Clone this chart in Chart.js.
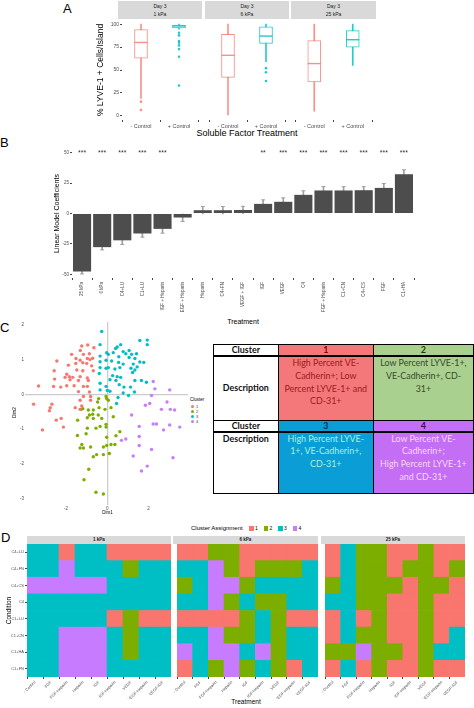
<!DOCTYPE html>
<html>
<head>
<meta charset="utf-8">
<script src="https://cdn.jsdelivr.net/npm/chart.js@4.4.0/dist/chart.umd.min.js"></script>
<style>
body{margin:0;width:474px;height:708px;overflow:hidden;background:#fff;position:relative;font-family:'Liberation Sans',Arial,sans-serif}
.txt{position:absolute;white-space:nowrap;line-height:1}
.letter{position:absolute;font-size:13px;line-height:13px;color:#000}
.strip{position:absolute;background:#D9D9D9;color:#1a1a1a;text-align:center}
#clusterTable{position:absolute;left:213px;top:344px;border-collapse:collapse;font-family:Lato,'Open Sans',sans-serif;font-size:8.9px;table-layout:fixed}
#clusterTable td{border:1px solid #000;text-align:center;padding:0;line-height:12.8px;vertical-align:top;overflow:hidden;box-sizing:border-box}
#clusterTable td.lab{background:#fff;color:#111;font-weight:bold}
#clusterTable tr.hd td{font-weight:bold;height:11px;line-height:10px}
#clusterTable tr.ds td{border-top:2px solid #000}
#clusterTable tr.ds0 td{height:64px}
#clusterTable tr.ds1 td{height:62px}
</style>
</head>
<body>
<div class="letter" style="left:63px;top:2px">A</div>
<div class="letter" style="left:0px;top:136px">B</div>
<div class="letter" style="left:0px;top:321px">C</div>
<div class="letter" style="left:1px;top:531px">D</div>

<div class="txt" style="left:247px;top:129px;transform:translateX(-50%);font-size:9px;color:#000">Soluble Factor Treatment</div>
<div class="txt" style="left:243px;top:318px;transform:translateX(-50%);font-size:7px;color:#000">Treatment</div>
<div class="txt" style="left:246px;top:699px;transform:translateX(-50%);font-size:6.5px;color:#000">Treatment</div>

<script>
// ---- panel A: box plots ----
const boxGroups = ['- Control', '+ Control'];
const boxFacets = ['1 kPa', '6 kPa', '25 kPa'];
const boxMin = [[19, 94.5], [1, 59], [5, 55]];
const boxQ1 = [[63, 96], [42, 79], [37, 75]];
const boxMed = [[80, 98], [66, 87], [57, 83]];
const boxQ3 = [[94, 99], [89, 97], [82, 93]];
const boxMax = [[100, 100], [100, 100], [100, 100]];
const outMinus = [[15.5, 6.5], [], []];
const outPlus = [[90.5, 87.7, 81.5, 79.7, 76.8, 72.8, 64.5, 33], [52, 47.5, 38], []];
const yTicksA = [0, 25, 50, 75, 100];

// ---- panel B: linear model coefficients ----
const treatments = ['25 kPa', '6 kPa', 'C4+LU', 'C1+LU', 'IGF + Heparin', 'VEGF + Heparin', 'Heparin', 'C4+FN',
  'VEGF + IGF', 'IGF', 'VEGF', 'C4', 'FGF + Heparin', 'C1+CN', 'C4+CS', 'FGF', 'C1+HA'];
const coefs = [-47.5, -27.6, -22, -16.4, -12.6, -3.3, 2.7, 2.7, 2.9, 7.9, 9.6, 15.3, 18.9, 18.9, 19.1, 21, 32.2];
const coefErr = [2, 2.2, 3.4, 3, 3.5, 3.3, 3, 3, 3, 3.3, 3.2, 3.3, 3.2, 3.1, 2.9, 3.6, 3.6];
const signif = ['***', '***', '***', '***', '***', '', '', '', '', '**', '***', '***', '***', '***', '***', '***', '***'];
const starLevel = 50;
const yTicksB = [-50, -25, 0, 25, 50];

// ---- panel C: cluster scatter (Dim1, Dim2) ----
const cluster1 = [[-1.24,1.39],[-0.95,1.42],[-0.65,1.34],[-1.31,1.26],[-1.73,1.15],[-1.16,1.15],[-0.87,1.17],[-1.52,1.03],
  [-1.32,0.98],[-0.97,1.03],[-0.84,1.00],[-0.71,1.04],[-2.45,0.96],[-1.53,0.89],[-1.19,0.91],[-1.00,0.89],[-1.89,0.84],
  [-0.76,0.82],[-2.58,0.68],[-1.48,0.70],[-1.19,0.68],[-0.68,0.68],[-1.97,0.58],[-2.05,0.49],[-1.84,0.51],[-1.68,0.49],
  [-1.32,0.51],[-0.97,0.47],[-2.56,0.44],[-1.81,0.42],[-1.40,0.40],[-0.92,0.40],[-1.97,0.25],[-1.61,0.25],[-1.16,0.23],
  [-0.97,0.23],[-3.34,0.24],[-2.61,0.23],[-2.26,0.21],[-1.40,0.08],[-0.87,0.07],[-1.16,-0.06],[-0.81,-0.17],[-1.32,-0.17],
  [-3.58,-0.28],[-2.69,-0.28],[-2.77,-0.38],[-1.56,-0.38],[-2.81,-0.47],[-1.32,-0.43],[-2.24,-0.69],[-2.48,-0.74],
  [-2.13,-0.94],[-3.15,-1.02],[-1.24,-0.33],[-0.81,-0.06]];
const cluster2 = [[-0.06,-0.06],[-0.03,-0.12],[-0.42,-0.12],[-1.27,-0.43],[-0.92,-0.45],[-0.68,-0.45],[-0.40,-0.38],
  [-0.11,-0.43],[0.18,-0.38],[-0.87,-0.59],[-0.71,-0.57],[-0.44,-0.59],[-0.97,-0.67],[-0.68,-0.69],[-1.44,-0.74],
  [-0.27,-0.69],[0.29,-0.64],[-0.06,-0.86],[-0.35,-0.92],[-0.55,-0.97],[-0.97,-0.97],[-0.06,-0.94],[0.61,-1.07],
  [-1.45,-1.18],[-1.03,-1.13],[0.42,-1.19],[-0.03,-1.23],[-1.24,-1.44],[-1.16,-1.54],[-1.32,-1.54],[-0.81,-1.51],
  [-0.19,-1.51],[-0.03,-1.47],[0.18,-1.44],[0.37,-1.44],[-0.52,-1.73],[-0.19,-1.73],[0.10,-1.70],[-0.68,-1.79],
  [-0.90,-2.15],[-1.13,-2.45],[-0.55,-2.81],[-0.19,-2.86],[-1.19,-0.41],[-0.47,-0.22],[0.05,-0.17]];
const cluster3 = [[-0.27,1.81],[1.58,1.55],[1.94,1.56],[1.94,1.43],[-0.35,1.43],[0.40,1.32],[0.48,1.36],[0.65,1.43],
  [1.06,1.26],[-0.03,1.20],[0.05,1.15],[0.29,1.20],[0.77,1.23],[0.90,1.17],[1.18,1.15],[1.42,1.17],[-0.35,1.10],
  [0.56,1.08],[1.06,1.06],[1.34,1.03],[1.58,0.93],[1.77,0.92],[-0.35,0.94],[-0.06,0.98],[0.21,0.96],[0.55,0.92],
  [0.77,0.87],[1.26,0.87],[1.45,0.79],[-0.35,0.77],[-0.06,0.75],[0.05,0.77],[0.37,0.73],[0.61,0.77],[1.15,0.75],
  [1.34,0.70],[1.23,0.63],[0.26,0.54],[0.48,0.51],[0.65,0.49],[0.13,0.42],[0.42,0.40],[1.34,0.40],[1.66,0.40],
  [1.90,0.35],[-0.35,0.32],[0.58,0.28],[-0.06,0.23],[0.81,0.21],[1.13,0.21],[1.32,0.07],[-0.35,0.13],[0.0,0.11],
  [0.13,0.09],[0.77,0.04],[1.03,-0.03],[0.52,-0.09],[0.45,-0.26],[-0.39,0.60]];
const cluster4 = [[2.23,0.37],[2.31,0.16],[3.03,0.13],[2.15,-0.03],[2.90,-0.22],[1.85,-0.31],[2.06,-0.26],[2.63,-0.43],
  [3.06,-0.43],[3.27,-0.45],[1.18,-0.59],[2.23,-0.85],[2.39,-0.85],[3.03,-0.88],[3.52,-0.94],[2.73,-1.02],[1.55,-0.92],
  [1.55,-1.21],[0.90,-1.28],[0.69,-1.32],[1.55,-1.47],[2.15,-1.58],[1.26,-1.77],[3.19,-1.82],[1.94,-2.06],[1.66,-2.20]];
const clusterNames = ['1', '2', '3', '4'];
const clusterColors = ['#F8766D', '#7CAE00', '#00BFC4', '#C77CFF'];

// ---- table next to panel C ----
const tableFill = ['#F4787A', '#A9D08E', '#0B9ED6', '#C36EF5'];
const tableHeadInk = ['#8B0000', '#1E3A10', '#0A2A45', '#3A0A55'];
const tableInk = ['#9B1B1B', '#3A4A30', '#A8F0DA', '#F6D8F8'];
const tableDesc = [
  'High Percent VE-<br>Cadherin+; Low<br>Percent LYVE-1+ and<br>CD-31+',
  'Low Percent LYVE-1+,<br>VE-Cadherin+, CD-<br>31+',
  'High Percent LYVE-<br>1+, VE-Cadherin+,<br>CD-31+',
  'Low Percent VE-<br>Cadherin+;<br>High Percent LYVE-1+<br>and CD-31+'];

// ---- panel D: cluster assignment heat map ----
const conditions = ['C4+LU', 'C4+FN', 'C4+CS', 'C4', 'C1+LU', 'C1+CN', 'C1+HA', 'C1+FN'];
const heatTreatments = ['- Control', 'FGF', 'FGF-Heparin', 'Heparin', 'IGF', 'IGF-Heparin', 'VEGF', 'VEGF-Heparin', 'VEGF-IGF'];
const stiffness = ['1 kPa', '6 kPa', '25 kPa'];
const assign1kPa = [
  [3,3,1,3,3,1,1,1,1],
  [3,3,4,3,3,3,2,3,3],
  [4,4,4,4,4,3,3,3,3],
  [3,3,3,3,3,3,3,3,3],
  [3,3,3,3,3,1,2,1,1],
  [3,3,4,4,4,3,2,3,3],
  [3,3,4,4,4,3,2,3,3],
  [3,3,4,4,4,3,3,3,3]];
const assign6kPa = [
  [1,1,2,2,1,1,1,1,1],
  [3,3,4,2,1,2,2,2,3],
  [2,3,4,4,2,3,3,3,3],
  [3,3,4,2,3,2,2,3,3],
  [1,1,1,1,2,3,2,1,1],
  [3,3,4,2,2,3,2,3,3],
  [4,3,4,4,3,4,2,3,3],
  [1,3,2,4,2,3,2,1,3]];
const assign25kPa = [
  [1,3,2,2,1,1,2,1,1],
  [1,3,2,2,1,2,2,1,2],
  [2,3,2,2,2,1,2,2,1],
  [3,3,2,2,1,1,2,1,1],
  [1,3,1,2,1,1,2,1,1],
  [1,3,2,2,1,1,2,1,3],
  [2,2,4,2,2,1,2,3,3],
  [1,3,1,2,1,1,2,1,1]];
const heatData = [assign1kPa, assign6kPa, assign25kPa];

Chart.defaults.font.family = "'Liberation Sans', Arial, sans-serif";
Chart.defaults.color = '#4D4D4D';
Chart.defaults.animation = false;
Chart.defaults.responsive = false;
Chart.defaults.devicePixelRatio = 1;
Chart.defaults.layout.autoPadding = false;
Chart.defaults.plugins.legend.display = false;
Chart.defaults.plugins.tooltip.enabled = false;

function makeCanvas(left, top, w, h) {
  const c = document.createElement('canvas');
  c.width = w; c.height = h;
  c.style.cssText = 'position:absolute;left:' + left + 'px;top:' + top + 'px;width:' + w + 'px;height:' + h + 'px';
  document.body.appendChild(c);
  return c.getContext('2d');
}
function addDiv(cls, css, html) {
  const d = document.createElement('div');
  d.className = cls;
  d.style.cssText = css;
  d.innerHTML = html;
  document.body.appendChild(d);
  return d;
}
// fixed axis size, only for shown axes
const fixWidth = (show, w) => s => { if (show) s.width = w; };
const tickGrid = {drawOnChartArea: false, tickLength: 2, color: '#444'};

// panel A
const boxColors = ['rgba(248,118,109,0.8)', 'rgba(0,191,196,0.85)'];
const facetA = [[118, 84], [205, 84], [291, 85]];
function boxChart(f) {
  const [left, width] = facetA[f];
  const showY = f === 0;
  addDiv('strip', 'left:' + left + 'px;top:1px;width:' + width + 'px;height:18px;font-size:5px;line-height:8px;padding-top:1px;box-sizing:border-box',
    'Day 3<br>' + boxFacets[f]);
  const axisW = showY ? 36 : 0;
  const ctx = makeCanvas(left - axisW, 16, width + axisW, 116);
  new Chart(ctx, {
    type: 'bar',
    data: {
      labels: boxGroups,
      datasets: [
        {type: 'line', data: outMinus[f].map(v => ({x: boxGroups[0], y: v})), showLine: false,
          pointRadius: 1.3, pointBorderWidth: 0, pointBackgroundColor: boxColors[0], order: 1},
        {type: 'line', data: outPlus[f].map(v => ({x: boxGroups[1], y: v})), showLine: false,
          pointRadius: 1.3, pointBorderWidth: 0, pointBackgroundColor: boxColors[1], order: 1},
        {type: 'line', data: boxMed[f], showLine: false, pointStyle: 'line', pointRadius: 6.5,
          pointBorderColor: boxColors, pointBorderWidth: 1.4, order: 2},
        {data: boxQ1[f].map((q, i) => [q, boxQ3[f][i]]), backgroundColor: '#fff', borderColor: boxColors,
          borderWidth: 1, borderSkipped: false, barThickness: 13, grouped: false, order: 3},
        {data: boxMin[f].map((m, i) => [m, boxMax[f][i]]), backgroundColor: boxColors,
          barThickness: 1, grouped: false, order: 4}
      ]
    },
    options: {
      layout: {padding: {top: 4, left: showY ? 0 : 4, right: 4, bottom: 0}},
      scales: {
        x: {grid: tickGrid, border: {display: false},
          ticks: {minRotation: 0, maxRotation: 0, autoSkip: false, font: {size: 5.5}, color: '#4D4D4D', padding: 1},
          afterFit: s => { s.height = 12; }},
        y: {display: showY, min: -4.5, max: 104.5,
          afterBuildTicks: s => { s.ticks = yTicksA.map(v => ({value: v})); },
          grid: tickGrid, border: {display: false},
          ticks: {font: {size: 5}, color: '#4D4D4D', padding: 1},
          title: {display: true, text: '% LYVE-1 + Cells/Island', font: {size: 8.5}, color: '#000', padding: {top: 14, bottom: 0}},
          afterFit: fixWidth(showY, 40)}
      }
    }
  });
}
[0, 1, 2].forEach(boxChart);

// panel B
const starPlugin = {
  id: 'stars',
  afterDatasetsDraw(chart) {
    const {ctx, scales: {x, y}} = chart;
    ctx.save();
    ctx.font = "7px 'Liberation Sans'";
    ctx.fillStyle = '#333';
    ctx.textAlign = 'center';
    ctx.textBaseline = 'middle';
    signif.forEach((s, i) => ctx.fillText(s, x.getPixelForValue(i), y.getPixelForValue(starLevel) + 1));
    ctx.restore();
  }
};
new Chart(makeCanvas(40, 145, 380, 167), {
  type: 'bar',
  data: {
    labels: treatments,
    datasets: [
      {data: coefs, backgroundColor: '#4D4D4D', barPercentage: 0.9, categoryPercentage: 1, grouped: false, order: 1},
      {data: coefs.map((v, i) => [v - coefErr[i], v + coefErr[i]]), backgroundColor: '#A0A0A0',
        barThickness: 1, grouped: false, order: 3},
      {type: 'line', data: coefs.map((v, i) => v + Math.sign(v) * coefErr[i]), showLine: false,
        pointStyle: 'line', pointRadius: 2, pointBorderColor: '#A0A0A0', pointBorderWidth: 1, order: 2}
    ]
  },
  options: {
    layout: {padding: {top: 4, left: 0, right: 6, bottom: 0}},
    scales: {
      x: {grid: tickGrid, border: {display: false},
        ticks: {minRotation: 90, maxRotation: 90, autoSkip: false, font: {size: 4.5}, color: '#4D4D4D', padding: 2},
        afterFit: s => { s.height = 34; }},
      y: {min: -52.9, max: 52.9,
        afterBuildTicks: s => { s.ticks = yTicksB.map(v => ({value: v})); },
        grid: tickGrid, border: {display: false},
        ticks: {font: {size: 4.5}, color: '#4D4D4D', padding: 1},
        title: {display: true, text: 'Linear Model Coefficients', font: {size: 7}, color: '#000', padding: {top: 13, bottom: 0}},
        afterFit: s => { s.width = 32; }}
    }
  },
  plugins: [starPlugin]
});

// panel C
const zeroLine = c => (c.tick && c.tick.value === 0) ? '#CCCCCC' : 'rgba(0,0,0,0)';
new Chart(makeCanvas(0, 317, 188, 200), {
  type: 'scatter',
  data: {
    datasets: [cluster1, cluster2, cluster3, cluster4].map((pts, k) => ({
      label: clusterNames[k],
      data: pts.map(p => ({x: p[0], y: p[1]})),
      pointRadius: 1.7, pointBorderWidth: 0, pointBackgroundColor: clusterColors[k]
    }))
  },
  options: {
    layout: {padding: {top: 5, left: 0, right: 0, bottom: 0}},
    scales: {
      x: {type: 'linear', min: -3.9, max: 3.92,
        afterBuildTicks: s => { s.ticks = [-2, 0, 2].map(v => ({value: v})); },
        grid: {color: zeroLine, lineWidth: 1.3, tickLength: 2}, border: {display: false},
        ticks: {font: {size: 4.5}, color: '#4D4D4D', padding: 1},
        title: {display: true, text: 'Dim1', font: {size: 4.5}, color: '#000', padding: {top: 0, bottom: 1.5}},
        afterFit: s => { s.height = 14; }},
      y: {min: -3.12, max: 2.08,
        afterBuildTicks: s => { s.ticks = [-3, -2, -1, 0, 1, 2].map(v => ({value: v})); },
        grid: {color: zeroLine, lineWidth: 1.3, tickLength: 2}, border: {display: false},
        ticks: {font: {size: 4.5}, color: '#4D4D4D', padding: 1},
        title: {display: true, text: 'Dim2', font: {size: 4.5}, color: '#000', padding: {top: 12, bottom: 0}},
        afterFit: s => { s.width = 27; }}
    }
  }
});
// legend of panel C
addDiv('txt', 'left:190px;top:398px;font-size:4.5px;color:#000', 'Cluster');
clusterNames.forEach((n, k) => {
  addDiv('txt', 'left:191px;top:' + (405 + k * 5) + 'px;width:3px;height:3px;border-radius:50%;background:' + clusterColors[k], '');
  addDiv('txt', 'left:196px;top:' + (404.5 + k * 5) + 'px;font-size:4px;color:#333', n);
});

// table
(function () {
  const t = document.createElement('table');
  t.id = 'clusterTable';
  let html = '<colgroup><col style="width:65px"><col style="width:96px"><col style="width:101px"></colgroup>';
  [[0, 1], [2, 3]].forEach((pair, r) => {
    html += '<tr class="hd"><td class="lab">Cluster</td>' +
      pair.map(k => '<td style="background:' + tableFill[k] + ';color:' + tableHeadInk[k] + '">' + clusterNames[k] + '</td>').join('') + '</tr>';
    html += '<tr class="ds ds' + r + '"><td class="lab" style="vertical-align:' + (r === 0 ? 'middle' : 'top') + '">Description</td>' +
      pair.map(k => '<td style="background:' + tableFill[k] + ';color:' + tableInk[k] + '">' + tableDesc[k] + '</td>').join('') + '</tr>';
  });
  t.innerHTML = html;
  document.body.appendChild(t);
})();

// panel D
addDiv('txt', 'left:191px;top:525px;font-size:6px;color:#000', 'Cluster Assignment');
clusterNames.forEach((n, k) => {
  addDiv('txt', 'left:' + (249 + k * 14.5) + 'px;top:526px;width:4.5px;height:4.5px;background:' + clusterColors[k], '');
  addDiv('txt', 'left:' + (255 + k * 14.5) + 'px;top:526px;font-size:5px;color:#000', n);
});
const facetD = [[27, 144], [173, 145], [321, 144]];
function heatChart(f) {
  const [left, width] = facetD[f];
  const showY = f === 0;
  addDiv('strip', 'left:' + left + 'px;top:536px;width:' + width + 'px;height:7.5px;font-size:4.5px;line-height:7.5px;font-weight:bold', stiffness[f]);
  const rows = heatData[f];
  const axisW = showY ? 27 : 0;
  const datasets = conditions.map((c, r) => r).reverse().map(r => ({
    label: conditions[r],
    data: heatTreatments.map(() => 1),
    backgroundColor: rows[r].map(k => clusterColors[k - 1]),
    barPercentage: 1, categoryPercentage: 1, borderWidth: 0
  }));
  new Chart(makeCanvas(left - axisW, 540, width + axisW, 159), {
    type: 'bar',
    data: {labels: heatTreatments, datasets},
    options: {
      layout: {padding: {top: 4, left: 0, right: 0, bottom: 0}},
      scales: {
        x: {stacked: true, grid: tickGrid, border: {display: false},
          ticks: {minRotation: 45, maxRotation: 45, autoSkip: false, font: {size: 4}, color: '#4D4D4D', padding: 1},
          afterFit: s => { s.height = 22; }},
        y: {display: showY, stacked: true, min: 0, max: 8,
          afterBuildTicks: s => { s.ticks = conditions.map((c, i) => ({value: i + 0.5})); },
          grid: tickGrid, border: {display: false},
          ticks: {font: {size: 4}, color: '#4D4D4D', padding: 1, callback: v => conditions[7 - Math.floor(v)]},
          title: {display: true, text: 'Condition', font: {size: 6.5}, color: '#000', padding: {top: 5.6, bottom: 0}},
          afterFit: fixWidth(showY, 27)}
      }
    }
  });
}
[0, 1, 2].forEach(heatChart);
</script>
</body>
</html>
